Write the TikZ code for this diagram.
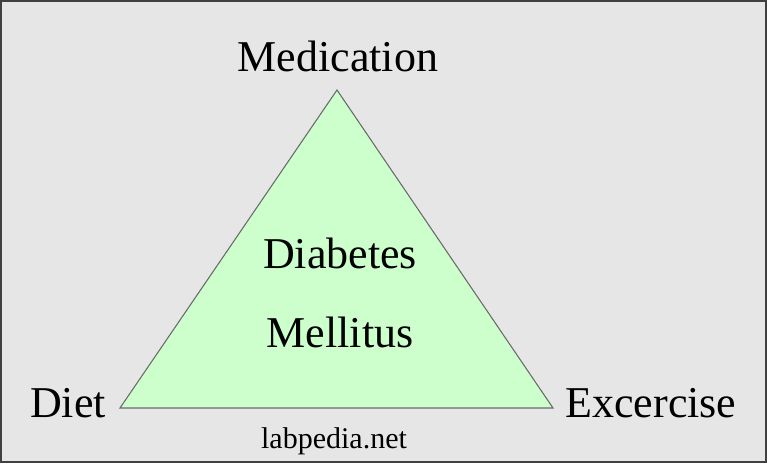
\documentclass[tikz,border=0pt]{standalone}
\usepackage{fontspec}
\setmainfont{Liberation Serif}
\definecolor{panelgray}{HTML}{E6E6E6}
\definecolor{framegray}{HTML}{404040}
\definecolor{trifill}{HTML}{CCFFCC}
\definecolor{triline}{HTML}{6A6A6A}
\begin{document}
\begin{tikzpicture}[x=0.75pt,y=-0.75pt]
		\tikzset{label/.style = {anchor=base, inner sep=0pt, font=\fontsize{33}{40}\selectfont},
			small/.style = {anchor=base, inner sep=0pt, font=\fontsize{22.5}{27}\selectfont}}

		\useasboundingbox (0,0) rectangle (768,464);
		\draw[framegray, fill=panelgray, line width=1.5pt] (1,1) rectangle (766,462);

		\coordinate (T_top) at (337,90);
		\coordinate (T_left) at (120,408);
		\coordinate (T_right) at (553,408);

		\draw[triline, fill=trifill, line width=0.8pt] (T_top)--(T_left)--(T_right)--cycle;

		\node[label] (Med) at (338,71) {Medication};
		\node[label] (Dia) at (340,268) {Diabetes};
		\node[label] (Mel) at (340,347) {Mellitus};
		\node[label] (Diet) at (68,417) {Diet};
		\node[label] (Exc) at (651,417) {Excercise};
		\node[small] (Web) at (334,448) {labpedia.net};

	\end{tikzpicture}
\end{document}
